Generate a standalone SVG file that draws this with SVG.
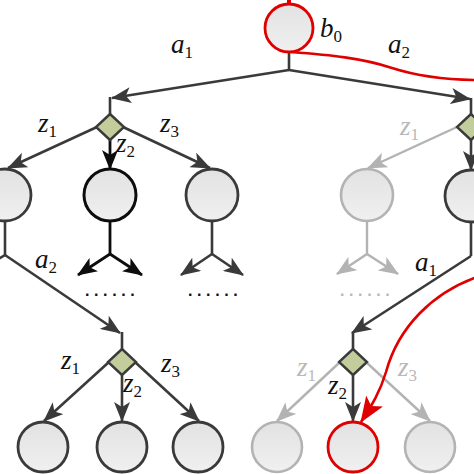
<svg xmlns="http://www.w3.org/2000/svg" width="474" height="474" viewBox="0 0 474 474">
<defs>
<linearGradient id="g" x1="0" y1="0" x2="0" y2="1">
<stop offset="0" stop-color="#e2e2e2"/><stop offset="1" stop-color="#f0f0f0"/>
</linearGradient>
<marker id="ad" viewBox="0 0 20 16" refX="19" refY="8" markerWidth="20" markerHeight="16" markerUnits="userSpaceOnUse" orient="auto"><path d="M0,0 L20,8 L0,16 L5,8 z" fill="#3a3a3a"/></marker>
<marker id="ab" viewBox="0 0 20 16" refX="19" refY="8" markerWidth="20" markerHeight="16" markerUnits="userSpaceOnUse" orient="auto"><path d="M0,0 L20,8 L0,16 L5,8 z" fill="#0d0d0d"/></marker>
<marker id="ag" viewBox="0 0 20 16" refX="19" refY="8" markerWidth="20" markerHeight="16" markerUnits="userSpaceOnUse" orient="auto"><path d="M0,0 L20,8 L0,16 L5,8 z" fill="#b3b3b3"/></marker>
<marker id="ar" viewBox="0 0 26 20" refX="25" refY="10" markerWidth="26" markerHeight="20" markerUnits="userSpaceOnUse" orient="auto"><path d="M0,0 L26,10 L0,20 L6,10 z" fill="#e00000"/></marker>
</defs>
<style>
.d{stroke:#3a3a3a;stroke-width:2.6;fill:none}
.b{stroke:#0d0d0d;stroke-width:2.8;fill:none}
.g{stroke:#b3b3b3;stroke-width:2.4;fill:none}
.r{stroke:#e00000;stroke-width:2.6;fill:none}
.cd{stroke:#3a3a3a;stroke-width:2.8;fill:url(#g)}
.cb{stroke:#0d0d0d;stroke-width:3;fill:url(#g)}
.cg{stroke:#b3b3b3;stroke-width:2.6;fill:url(#g)}
.cr{stroke:#e00000;stroke-width:2.8;fill:url(#g)}
.dm{fill:#c3cd9b;stroke:#3a3a3a;stroke-width:2.4}
text{font-family:"Liberation Serif","Times New Roman",serif;font-size:27px;font-style:italic;fill:#111}
text.gt{fill:#b8b8b8}
tspan.s{font-size:17px;font-style:normal}
text.dots{font-family:"Liberation Sans",Arial,sans-serif;font-style:normal;font-weight:bold;font-size:16px;letter-spacing:4.6px}
</style>
<g id="connectors">
<line class="d" x1="289" y1="52" x2="289" y2="70"/>
<line class="d" x1="289" y1="70" x2="112" y2="98" marker-end="url(#ad)"/>
<line class="d" x1="289" y1="70" x2="470" y2="99" marker-end="url(#ad)"/>
<line class="d" x1="110" y1="97" x2="110" y2="114"/>
<line class="d" x1="471" y1="98" x2="471" y2="114"/>
<line class="d" x1="97" y1="127" x2="8" y2="168" marker-end="url(#ad)"/>
<line class="b" x1="110" y1="140" x2="110" y2="169" marker-end="url(#ab)"/>
<line class="d" x1="123" y1="127" x2="210" y2="168" marker-end="url(#ad)"/>
<line class="g" x1="457" y1="127" x2="368" y2="168" marker-end="url(#ag)"/>
<line class="d" x1="471" y1="140" x2="471" y2="170" marker-end="url(#ad)"/>
<polyline class="d" points="5,221 5,255 -20,270"/>
<line class="d" x1="5" y1="255" x2="120" y2="333" marker-end="url(#ad)"/>
<line class="d" x1="122" y1="332" x2="122" y2="350"/>
<line class="b" x1="110" y1="221" x2="110" y2="254"/>
<line class="b" x1="110" y1="254" x2="78" y2="275" marker-end="url(#ab)"/>
<line class="b" x1="110" y1="254" x2="142" y2="275" marker-end="url(#ab)"/>
<line class="d" x1="212" y1="221" x2="212" y2="254"/>
<line class="d" x1="212" y1="254" x2="181" y2="275" marker-end="url(#ad)"/>
<line class="d" x1="212" y1="254" x2="243" y2="275" marker-end="url(#ad)"/>
<line class="g" x1="367" y1="221" x2="367" y2="254"/>
<line class="g" x1="367" y1="254" x2="337" y2="274" marker-end="url(#ag)"/>
<line class="g" x1="367" y1="254" x2="398" y2="274" marker-end="url(#ag)"/>
<line class="d" x1="471" y1="222" x2="471" y2="256"/>
<line class="d" x1="471" y1="256" x2="352" y2="333" marker-end="url(#ad)"/>
<line class="d" x1="353" y1="332" x2="353" y2="350"/>
<line class="d" x1="109" y1="362" x2="44" y2="421" marker-end="url(#ad)"/>
<line class="d" x1="122" y1="375" x2="122" y2="421" marker-end="url(#ad)"/>
<line class="d" x1="135" y1="362" x2="199" y2="421" marker-end="url(#ad)"/>
<line class="g" x1="340" y1="362" x2="277" y2="421" marker-end="url(#ag)"/>
<line class="d" x1="353" y1="375" x2="353" y2="421" marker-end="url(#ad)"/>
<line class="g" x1="366" y1="362" x2="430" y2="421" marker-end="url(#ag)"/>
<path class="r" d="M291,52 C330,55 362,58 392,68 C420,77 450,80 480,80"/>
<path class="r" d="M480,276 C432,292 398,328 386,372 C380,392 372,405 361,422" marker-end="url(#ar)"/>
<line class="r" x1="289" y1="4" x2="289" y2="-4" style="stroke-width:4"/>
</g>
<g id="b0"><circle class="cr" cx="289" cy="28" r="24"/></g>
<g id="d1"><polygon class="dm" points="110,114 124,127 110,140 96,127"/></g>
<g id="d2"><polygon class="dm" points="471,114 485,127 471,140 457,127"/></g>
<g id="d3"><polygon class="dm" points="122,349 136,362 122,375 108,362"/></g>
<g id="d4"><polygon class="dm" points="353,349 367,362 353,375 339,362"/></g>
<g id="n1"><circle class="cd" cx="5" cy="195" r="26"/></g>
<g id="n2"><circle class="cb" cx="110" cy="195" r="26"/></g>
<g id="n3"><circle class="cd" cx="212" cy="195" r="26"/></g>
<g id="n4"><circle class="cg" cx="367" cy="195" r="26"/></g>
<g id="n5"><circle class="cd" cx="471" cy="196" r="26"/></g>
<g id="n6"><circle class="cd" cx="43" cy="447" r="25"/></g>
<g id="n7"><circle class="cd" cx="122" cy="447" r="25"/></g>
<g id="n8"><circle class="cd" cx="198" cy="447" r="25"/></g>
<g id="n9"><circle class="cg" cx="277" cy="447" r="25"/></g>
<g id="n10"><circle class="cr" cx="353" cy="447" r="25"/></g>
<g id="n11"><circle class="cg" cx="430" cy="447" r="25"/></g>
<g id="labels">
<text x="320" y="37">b<tspan class="s" dy="5">0</tspan></text>
<text x="171" y="53">a<tspan class="s" dy="5">1</tspan></text>
<text x="388" y="53">a<tspan class="s" dy="5">2</tspan></text>
<text x="38" y="132">z<tspan class="s" dy="5">1</tspan></text>
<text x="116" y="152">z<tspan class="s" dy="5">2</tspan></text>
<text x="160" y="132">z<tspan class="s" dy="5">3</tspan></text>
<text class="gt" x="400" y="135">z<tspan class="s" dy="5">1</tspan></text>
<text x="35" y="268">a<tspan class="s" dy="5">2</tspan></text>
<text x="415" y="271">a<tspan class="s" dy="5">1</tspan></text>
<text x="61" y="369">z<tspan class="s" dy="5">1</tspan></text>
<text x="123" y="392">z<tspan class="s" dy="5">2</tspan></text>
<text x="161" y="372">z<tspan class="s" dy="5">3</tspan></text>
<text class="gt" x="297" y="376">z<tspan class="s" dy="5">1</tspan></text>
<text x="328" y="394">z<tspan class="s" dy="5">2</tspan></text>
<text class="gt" x="398" y="376">z<tspan class="s" dy="5">3</tspan></text>
<text class="dots" x="85" y="296">......</text>
<text class="dots" x="188" y="296">......</text>
<text class="dots gt" x="340" y="296" style="fill:#b8b8b8">......</text>
</g>
</svg>
